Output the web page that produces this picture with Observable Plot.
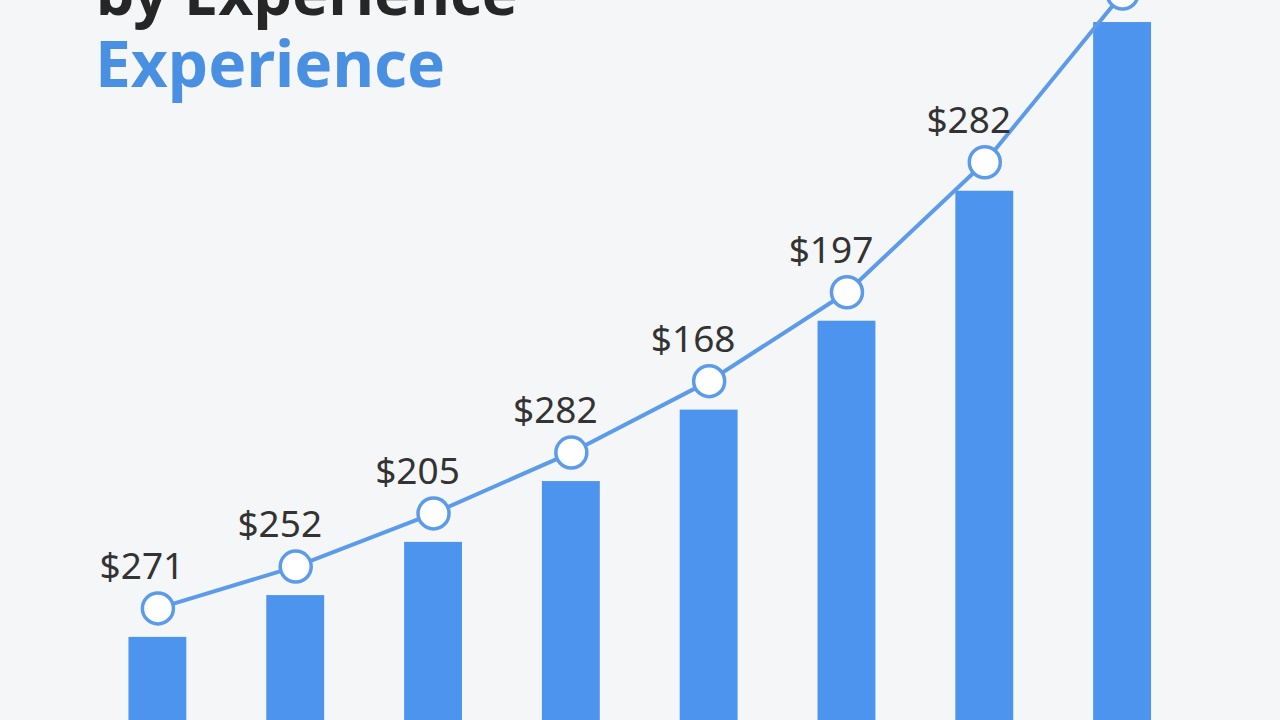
<!DOCTYPE html>
<html><head><meta charset="utf-8">
<script src="https://cdn.jsdelivr.net/npm/d3@7"></script>
<script src="https://cdn.jsdelivr.net/npm/@observablehq/plot@0.6"></script>
<style>
html,body{margin:0;padding:0;width:1280px;height:720px;overflow:hidden;background:#f5f6f8;}
#chart{position:absolute;left:0;top:-60px;}
.t{position:absolute;left:95px;font-family:"Noto Sans";font-weight:700;white-space:nowrap;}
</style></head><body>
<div id="chart"></div>
<div class="t" style="top:-38px;left:96px;font-size:61px;line-height:60px;color:#262626">by Experience</div>
<div class="t" style="top:31px;font-size:64px;line-height:64px;color:#4a90e2">Experience</div>
<script>
const categories = ["0–1 yrs", "1–3 yrs", "3–5 yrs", "5–7 yrs", "7–10 yrs", "10–15 yrs", "15–20 yrs", "20+ yrs"];
const barValues = [16.2, 21.7, 28.7, 36.7, 46.1, 57.8, 74.9, 97.1];
const labels = ["$271", "$252", "$205", "$282", "$168", "$197", "$282", ""];

const data = categories.map((c, i) => ({cat: c, value: barValues[i], label: labels[i]}));
const chart = Plot.plot({
  width: 1280, height: 840,
  marginTop: 60, marginBottom: 20, marginLeft: 88.5, marginRight: 89,
  style: {background: "transparent", overflow: "visible"},
  x: {domain: categories, paddingInner: 0.58, paddingOuter: 0.29, round: false, axis: null},
  y: {domain: [0, 100], axis: null},
  marks: [
    Plot.barY(data, {x: "cat", y: "value", fill: "#4d94ee"}),
    Plot.line(data, {x: "cat", y: "value", dy: -29, stroke: "#5b9be9", strokeWidth: 4}),
    Plot.dot(data, {x: "cat", y: "value", dy: -29, r: 15.5, fill: "white", stroke: "#5b9be9", strokeWidth: 3.5}),
    Plot.text(data, {x: "cat", y: "value", dy: -70, dx: -16, text: "label", fontSize: 37, fill: "#333", fontFamily: "Noto Sans"})
  ]
});
document.getElementById("chart").appendChild(chart);
</script>
</body></html>
